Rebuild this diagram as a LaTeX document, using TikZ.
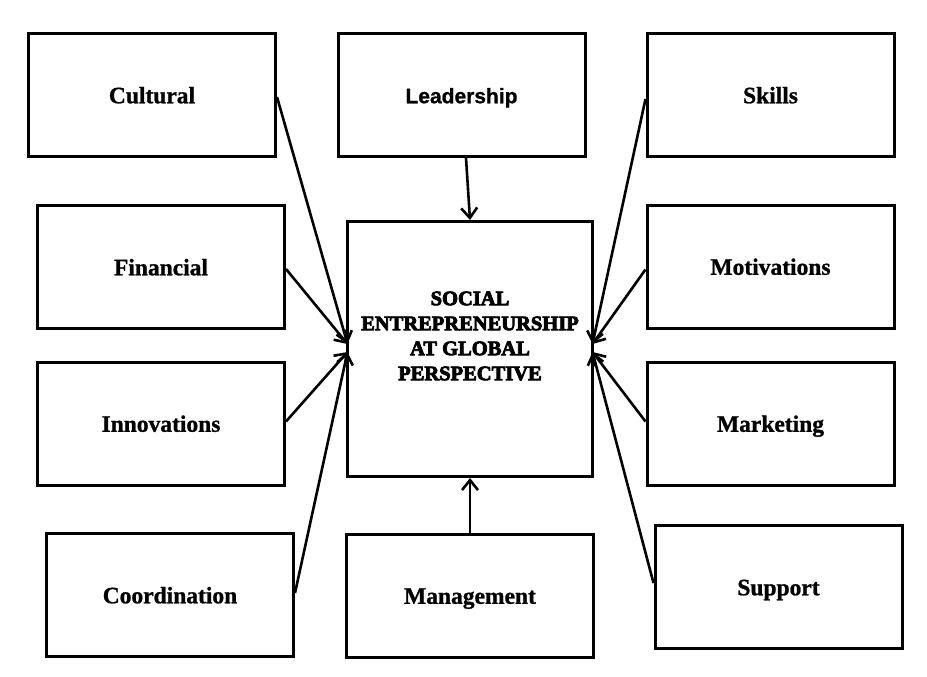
\documentclass[tikz,border=0pt]{standalone}
\usepackage{fontspec}
\setmainfont{Liberation Serif}[BoldFeatures={FakeBold=1}]
\newfontfamily\lsans{Liberation Sans}[BoldFeatures={FakeBold=0.8}]
\newfontfamily\heavyfont{Liberation Serif Bold}[FakeBold=4]
\usetikzlibrary{arrows.meta}
\begin{document}
\begin{tikzpicture}[x=1pt,y=-1pt,
  box/.style={draw, line width=3pt, minimum width=247pt, minimum height=123pt, inner sep=0pt,
    text height=16.5pt, text depth=0pt,
    font=\fontsize{23.5}{26}\selectfont\bfseries},
  link/.style={line width=2.6pt, -{Straight Barb[length=10pt,width=16pt]}}]
\useasboundingbox[fill=white] (0,0) rectangle (927,677);
% boxes
\node[box] (cult)   at (152,95)    {Cultural};
\node[box, font=\lsans\fontsize{21}{24}\selectfont\bfseries] (lead) at (461.5,95) {Leadership};
\node[box] (skills) at (770.5,95)  {Skills};
\node[box] (fin)    at (161,267)   {Financial};
\node[box] (mot)    at (770.5,266.5) {Motivations};
\node[box] (inn)    at (161,423.5) {Innovations};
\node[box] (mkt)    at (770.5,423.5) {Marketing};
\node[box] (coord)  at (170,595)   {Coordination};
\node[box] (mgmt)   at (470,595.5) {Management};
\node[box] (supp)   at (778.5,587) {Support};
\node[box, minimum width=245pt, minimum height=255pt] (ctr) at (470,349) {};
\node[font=\heavyfont\fontsize{20.5}{25}\selectfont, align=center, inner sep=0pt] (ctext) at (470,336)
  {SOCIAL\\ENTREPRENEURSHIP\\AT GLOBAL\\PERSPECTIVE};
% convergence points
\coordinate (la) at (347.5,344);
\coordinate (lb) at (347.5,352);
\coordinate (ra) at (592.5,344);
\coordinate (rb) at (592.5,352);
% connectors
\draw[link] ([yshift=-2pt]cult.east) -- (la);
\draw[link] ([yshift=-2pt]fin.east) -- (la);
\draw[link] ([yshift=2pt]inn.east) -- (lb);
\draw[link] ([yshift=2pt]coord.east) -- (lb);
\draw[link] ([yshift=-4pt]skills.west) -- (ra);
\draw[link] ([yshift=-3pt]mot.west) -- (ra);
\draw[link] ([yshift=2pt]mkt.west) -- (rb);
\draw[link] ([yshift=4pt]supp.west) -- (rb);
\draw[link] ([xshift=4.5pt]lead.south) -- (ctr.north);
\draw[link] (mgmt.north) -- (ctr.south);
\end{tikzpicture}
\end{document}
